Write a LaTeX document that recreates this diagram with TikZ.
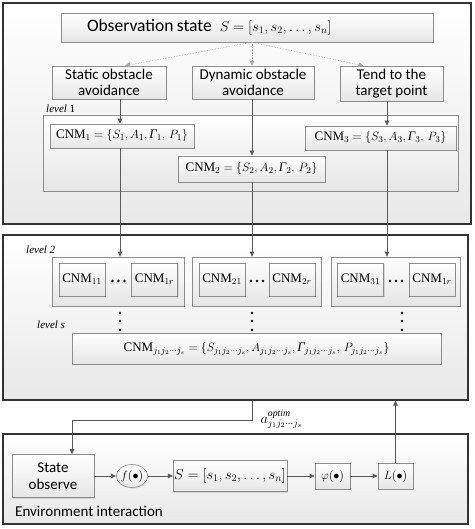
\documentclass[tikz,border=0pt]{standalone}
\usepackage{fontspec}
\setmainfont{Liberation Serif}
\newfontfamily\labfont{Carlito}
\usetikzlibrary{arrows.meta,shadows,shapes.geometric}
\newcommand{\Gam}{\mbox{\itshape Γ}}
\newcommand{\jj}{j_1j_2\cdots j_s}

\begin{document}
\begin{tikzpicture}[x=1pt, y=-1pt,
    panel/.style={draw=black!80, line width=1.1pt, top color=white, bottom color=black!9},
    box/.style={draw=black!45, line width=0.6pt, top color=white, bottom color=black!10, inner sep=1pt,
        drop shadow={shadow xshift=1pt, shadow yshift=-1pt, opacity=0.25}},
    lab/.style={font=\labfont\fontsize{15}{16.5}\selectfont, align=center},
    cnm/.style={font=\fontsize{13}{15}\selectfont},
    lvl/.style={font=\fontsize{11}{13}\selectfont, anchor=west, inner sep=0pt},
    dotmark/.style={circle, fill=black, inner sep=0pt, minimum size=2.6pt},
    arr/.style={-{Triangle[length=5pt, width=4.5pt]}, draw=black!65, line width=0.6pt},
    dotarr/.style={arr, densely dotted, draw=black!35}
]
\useasboundingbox (0,0) rectangle (474,529);

% panels
\node[panel, minimum width=468pt, minimum height=221pt] (top) at (237,113.5) {};
\node[panel, minimum width=465pt, minimum height=165pt] (mid) at (235.5,317.5) {};
\node[panel, minimum width=465pt, minimum height=90pt] (bot) at (235.5,479) {};

% top panel
\node[box, minimum width=372pt, minimum height=29pt, text width=320pt, align=left] (obs) at (247,27.5)
    {{\labfont\fontsize{17.5}{19}\selectfont Observation state}\hspace{8pt}{\fontsize{14}{15}\selectfont $S=[s_1,s_2,\dots,s_n]$}};
\node[box, lab, minimum width=114pt, minimum height=33pt] (static) at (109,82.5) {Static obstacle\\avoidance};
\node[box, lab, minimum width=122pt, minimum height=33pt] (dyn) at (253,82.5) {Dynamic obstacle\\avoidance};
\node[box, lab, minimum width=103pt, minimum height=35pt] (tend) at (391.5,83.5) {Tend to the\\target point};
\node[lvl] (lev1lab) at (46,109) {\textit{level} 1};
\node[box, minimum width=415pt, minimum height=76pt] (lev1) at (250.5,153) {};
\node[box, cnm, minimum width=144pt, minimum height=24pt] (cnm1) at (122,136) {$\mathrm{CNM}_1=\{S_1,A_1,\Gam_1,\,P_1\}$};
\node[box, cnm, minimum width=151pt, minimum height=24pt] (cnm3) at (380.5,138) {$\mathrm{CNM}_3=\{S_3,A_3,\Gam_3,\,P_3\}$};
\node[box, cnm, minimum width=147pt, minimum height=26pt] (cnm2) at (251.5,169) {$\mathrm{CNM}_2=\{S_2,A_2,\Gam_2,\,P_2\}$};

% middle panel
\node[lvl] (lev2lab) at (26,250) {\textit{level 2}};
\node[box, minimum width=132pt, minimum height=49pt] (grp1) at (118,281.5) {};
\node[box, minimum width=129pt, minimum height=49pt] (grp2) at (256.5,281.5) {};
\node[box, minimum width=129pt, minimum height=49pt] (grp3) at (395.5,281.5) {};
\foreach \n/\x/\t in {c11/82/11, c1r/154.5/1r, c21/222/21, c2r/292/2r, c31/360.5/31, c3r/432/1r}
    \node[box, cnm, minimum width=46pt, minimum height=33pt] (\n) at (\x,279.5) {$\mathrm{CNM}_{\t}$};
% dots between the boxes
\foreach \n/\x in {hd1/118.5, hd2/257, hd3/396} {
    \node[dotmark] (\n a) at (\x-6,281) {};
    \node[dotmark] (\n b) at (\x,281) {};
    \node[dotmark] (\n c) at (\x+6,281) {};
}
\foreach \n/\x in {vd1/120, vd2/252, vd3/402} {
    \node[dotmark] (\n a) at (\x,313) {};
    \node[dotmark] (\n b) at (\x,321) {};
    \node[dotmark] (\n c) at (\x,330) {};
}
\node[lvl] (levslab) at (37,325) {\textit{level s}};
\node[box, cnm, minimum width=369pt, minimum height=31pt] (cnms) at (256.5,348.5)
    {$\mathrm{CNM}_{\jj}=\{S_{\jj},A_{\jj},\Gam_{\jj},\,P_{\jj}\}$};

% bottom panel
\node[box, lab, minimum width=82pt, minimum height=43pt] (state) at (53,476) {State\\observe};
\node[box, ellipse, cnm, minimum width=31pt, minimum height=23pt, inner sep=0pt] (fx) at (132,476) {$f(\bullet)$};
\node[box, minimum width=110pt, minimum height=31pt] (sbox) at (230,476) {\fontsize{14.5}{17}\selectfont $S=[s_1,s_2,\dots,s_n]$};
\node[box, cnm, minimum width=35pt, minimum height=26pt] (phi) at (332.5,476) {$\varphi(\bullet)$};
\node[box, cnm, minimum width=35pt, minimum height=26pt] (lbox) at (395.5,476) {$L(\bullet)$};
\node[lab, anchor=west, inner sep=0pt] (envlab) at (15,511) {Environment interaction};

% connectors
\coordinate (c1) at (120,0);
\coordinate (c2) at (252,0);
\coordinate (c3) at (387,0);
\coordinate (turn) at (72,420);

\draw[dotarr] ([xshift=5pt]obs.south) -- ([xshift=16pt]static.north);
\draw[dotarr] ([xshift=5pt]obs.south) -- (dyn.north -| c2);
\draw[dotarr] ([xshift=5pt]obs.south) -- ([xshift=-28pt]tend.north);

\draw[arr] (static.south -| c1) -- (cnm1.north -| c1);
\draw[arr] (dyn.south -| c2) -- (cnm2.north -| c2);
\draw[arr] (tend.south -| c3) -- (cnm3.north -| c3);
\draw[arr] (cnm1.south -| c1) -- (grp1.north -| c1);
\draw[arr] (cnm2.south -| c2) -- (grp2.north -| c2);
\draw[arr] (cnm3.south -| c3) -- (grp3.north -| c3);

\draw[arr] (mid.south -| c2) |- (turn) -- (state.north -| turn);
\node[font=\fontsize{14}{16}\selectfont, anchor=west] (alab) at (257,419) {$a^{\mathit{optim}}_{\jj}$};
\draw[arr] (lbox.north) -- (lbox.north |- mid.south);

\foreach \a/\b in {state/fx, fx/sbox, sbox/phi, phi/lbox}
    \draw[arr] (\a) -- (\b);

\end{tikzpicture}
\end{document}
